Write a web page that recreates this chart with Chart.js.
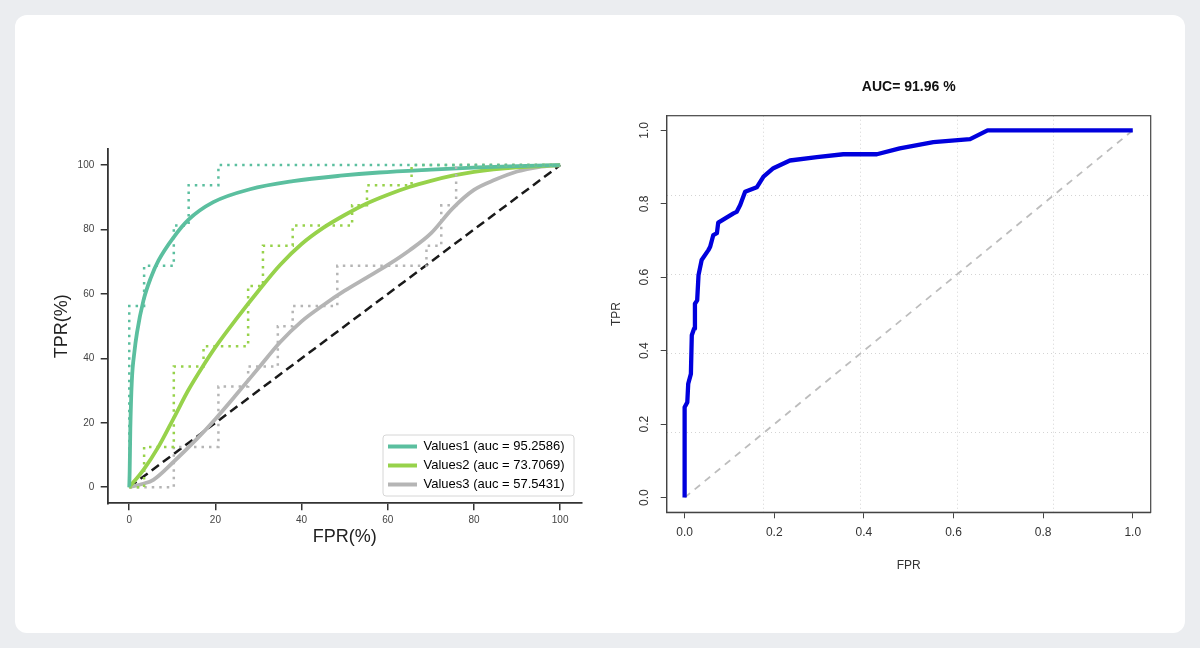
<!DOCTYPE html>
<html>
<head>
<meta charset="utf-8">
<script src="https://cdn.jsdelivr.net/npm/chart.js@4.4.1/dist/chart.umd.min.js"></script>
<style>
  html, body { margin: 0; padding: 0; width: 1200px; height: 648px; overflow: hidden; background: #ebedf0; }
  .card { position: absolute; left: 15px; top: 15px; width: 1170px; height: 618px; background: #fff; border-radius: 12px; }
  .box { position: absolute; }
  #leftBox { left: 30px; top: 100px; width: 570px; height: 460px; }
  #rightBox { left: 596px; top: 60px; width: 590px; height: 545px; }
</style>
</head>
<body>
<div class="card"></div>
<div class="box" id="leftBox"><canvas id="rocMulti"></canvas></div>
<div class="box" id="rightBox"><canvas id="rocSingle"></canvas></div>
<script>
// 左图：三组数据的经验 ROC（阶梯）和平滑 ROC
const seriesNames = ['Values1', 'Values2', 'Values3'];
const aucValues = ['95.2586', '73.7069', '57.5431'];
const seriesColors = ['#5bbf9f', '#97d24b', '#b5b5b5'];
const leftTicks = [0, 20, 40, 60, 80, 100];

// 阶梯点（先水平后垂直）
const stepFpr1 = [0, 0, 3.45, 10.34, 13.79, 20.69, 100];
const stepTpr1 = [0, 56.25, 68.75, 81.25, 93.75, 100, 100];
const stepFpr2 = [0, 3.45, 10.34, 17.24, 27.59, 31.03, 37.93, 51.72, 55.17, 65.52, 100];
const stepTpr2 = [0, 12.5, 37.5, 43.75, 62.5, 75, 81.25, 87.5, 93.75, 100, 100];
const stepFpr3 = [0, 10.34, 20.69, 27.59, 34.48, 37.93, 48.28, 68.97, 72.41, 75.86, 100];
const stepTpr3 = [0, 12.5, 31.25, 37.5, 50, 56.25, 68.75, 75, 87.5, 100, 100];

// 平滑曲线
const smoothFpr1 = [0, 0.1, 0.25, 0.6, 1.2, 1.8, 3.3, 5, 6.8, 10.3, 13.7, 19.5, 28, 38, 49, 58, 70, 81, 90, 100];
const smoothTpr1 = [0, 5, 18, 33, 42, 48, 58, 65, 70.4, 77.6, 83, 88.5, 92.5, 95, 96.7, 97.7, 98.6, 99.3, 99.7, 100];
const smoothFpr2 = [0, 3.3, 6.8, 10.3, 13.7, 17.2, 20, 25, 30, 35, 40, 45, 50, 55, 60, 65, 70, 75, 80, 90, 100];
const smoothTpr2 = [0, 5.4, 12.6, 21.4, 30.1, 37.8, 43.5, 52.5, 61, 69, 75.5, 80.5, 84.5, 88, 90.8, 93.2, 95.1, 96.7, 97.9, 99.3, 100];
const smoothFpr3 = [0, 3, 5.6, 10.3, 15.7, 20, 25, 30, 35, 40, 45, 50, 55, 60, 65, 70, 75, 80, 85, 90, 95, 100];
const smoothTpr3 = [0, 1, 2.3, 7.9, 15, 21.2, 29, 37, 45, 51.5, 56.5, 61, 65, 69, 73.5, 78.8, 86.5, 92.3, 95.5, 98, 99.4, 100];

const chanceFpr = [0, 100];
const chanceTpr = [0, 100];

// 右图：单条 ROC
const singleTitle = 'AUC= 91.96 %';
const rightTicks = [0, 0.2, 0.4, 0.6, 0.8, 1.0];
const gridTicks = [0.176, 0.392, 0.608, 0.824];
const rocFpr = [0, 0, 0.006, 0.008, 0.014, 0.016, 0.021, 0.023, 0.028, 0.031, 0.038, 0.053, 0.057, 0.064, 0.072, 0.075, 0.109, 0.116, 0.124, 0.135, 0.161, 0.176, 0.198, 0.235, 0.295, 0.354, 0.429, 0.48, 0.555, 0.637, 0.676, 1.0];
const rocTpr = [0, 0.246, 0.26, 0.31, 0.337, 0.442, 0.46, 0.528, 0.537, 0.606, 0.647, 0.674, 0.683, 0.715, 0.72, 0.749, 0.774, 0.778, 0.797, 0.833, 0.845, 0.874, 0.897, 0.918, 0.927, 0.935, 0.935, 0.951, 0.968, 0.976, 1.0, 1.0];
const diagFpr = [0, 1];
const diagTpr = [0, 1];

const toPoints = (xs, ys) => xs.map((x, i) => ({ x: x, y: ys[i] }));

Chart.defaults.font.family = '"Liberation Sans", Arial, Helvetica, sans-serif';
Chart.defaults.color = '#333';

// 图例外框，放在绘图区右下角
const legendFrame = {
  id: 'legendFrame',
  afterLayout(chart) {
    const a = chart.chartArea;
    const lg = chart.legend;
    const w = 191, h = 61;
    const bx = a.right - 7.7 - w, by = a.bottom - 7.3 - h;
    chart.$legendBox = { x: bx, y: by, w: w, h: h };
    lg.left = bx - 1; lg.top = by - 1;
    lg.width = w + 4; lg.height = h + 2;
    lg.right = lg.left + lg.width; lg.bottom = lg.top + lg.height;
  },
  beforeDraw(chart) {
    const b = chart.$legendBox;
    if (!b) return;
    const ctx = chart.ctx;
    ctx.save();
    ctx.beginPath();
    ctx.roundRect(b.x, b.y, b.w, b.h, 3);
    ctx.fillStyle = 'rgba(255,255,255,0.9)';
    ctx.fill();
    ctx.strokeStyle = '#d6d6d6';
    ctx.lineWidth = 1;
    ctx.stroke();
    ctx.restore();
  }
};

const stepSets = [[stepFpr1, stepTpr1], [stepFpr2, stepTpr2], [stepFpr3, stepTpr3]];
const smoothSets = [[smoothFpr1, smoothTpr1], [smoothFpr2, smoothTpr2], [smoothFpr3, smoothTpr3]];

const leftDatasets = [];
stepSets.forEach(([xs, ys], i) => {
  leftDatasets.push({
    label: seriesNames[i] + ' empirical',
    data: toPoints(xs, ys),
    stepped: 'before',
    borderColor: seriesColors[i],
    borderWidth: 2.5,
    borderDash: [2.5, 5],
    pointRadius: 0,
    fill: false
  });
});
smoothSets.forEach(([xs, ys], i) => {
  leftDatasets.push({
    label: seriesNames[i],
    data: toPoints(xs, ys),
    borderColor: seriesColors[i],
    borderWidth: 3.8,
    cubicInterpolationMode: 'monotone',
    pointRadius: 0,
    fill: false
  });
});
leftDatasets.push({
  label: 'chance',
  data: toPoints(chanceFpr, chanceTpr),
  borderColor: '#1a1a1a',
  borderWidth: 2.5,
  borderDash: [9, 5],
  pointRadius: 0,
  fill: false
});

new Chart(document.getElementById('rocMulti'), {
  type: 'line',
  data: { datasets: leftDatasets },
  options: {
    responsive: true,
    maintainAspectRatio: false,
    animation: false,
    layout: { padding: { left: 0, right: 18.3, top: 49, bottom: 0 } },
    scales: {
      x: {
        type: 'linear', min: -5, max: 105,
        afterBuildTicks: s => { s.ticks = leftTicks.map(v => ({ value: v })); },
        afterFit: s => { s.height = 56.7; },
        ticks: { font: { size: 10 }, color: '#444', padding: 4 },
        grid: { drawOnChartArea: false, drawTicks: true, tickLength: 7, color: '#333', lineWidth: 1.5 },
        border: { display: true, color: '#333', width: 1.8 },
        title: { display: true, text: 'FPR(%)', font: { size: 18 }, color: '#222', padding: { top: 0, bottom: 12.2 } }
      },
      y: {
        type: 'linear', min: -5, max: 105,
        afterBuildTicks: s => { s.ticks = leftTicks.map(v => ({ value: v })); },
        afterFit: s => { s.width = 77.7; },
        ticks: { font: { size: 10 }, color: '#444', padding: 6.4 },
        grid: { drawOnChartArea: false, drawTicks: true, tickLength: 7, color: '#333', lineWidth: 1.5 },
        border: { display: true, color: '#333', width: 1.8 },
        title: { display: true, text: 'TPR(%)', font: { size: 18 }, color: '#222', padding: { top: 21.2, bottom: 0 } }
      }
    },
    plugins: {
      legend: {
        position: 'chartArea',
        align: 'start',
        labels: {
          boxWidth: 29,
          boxHeight: 4,
          padding: 6,
          font: { size: 13 },
          color: '#333',
          generateLabels: () => seriesNames.map((n, i) => ({
            text: n + ' (auc = ' + aucValues[i] + ')',
            fillStyle: seriesColors[i],
            strokeStyle: seriesColors[i],
            lineWidth: 0,
            hidden: false,
            datasetIndex: i + 3
          }))
        }
      },
      tooltip: { enabled: false }
    }
  },
  plugins: [legendFrame]
});

// 右图外框
const plotFrame = {
  id: 'plotFrame',
  afterDatasetsDraw(chart) {
    const { ctx, chartArea: a } = chart;
    ctx.save();
    ctx.strokeStyle = '#444';
    ctx.lineWidth = 1.2;
    ctx.strokeRect(a.left, a.top, a.right - a.left, a.bottom - a.top);
    ctx.restore();
  }
};

const axisStyle = {
  grid: { drawOnChartArea: false, drawTicks: true, tickLength: 6, color: '#444', lineWidth: 1 },
  border: { display: true, color: '#444', width: 1.2 }
};

new Chart(document.getElementById('rocSingle'), {
  type: 'line',
  data: {
    datasets: [
      {
        label: 'ROC',
        data: toPoints(rocFpr, rocTpr),
        borderColor: '#0000dd',
        borderWidth: 4.3,
        pointRadius: 0,
        borderJoinStyle: 'round',
        fill: false
      },
      {
        label: 'diagonal',
        data: toPoints(diagFpr, diagTpr),
        borderColor: '#bdbdbd',
        borderWidth: 1.8,
        borderDash: [7, 6],
        pointRadius: 0,
        fill: false
      }
    ]
  },
  options: {
    responsive: true,
    maintainAspectRatio: false,
    animation: false,
    layout: { padding: { left: 0, right: 35.3, top: 0, bottom: 0 } },
    scales: {
      x: {
        type: 'linear', min: -0.04, max: 1.04,
        afterBuildTicks: s => { s.ticks = rightTicks.map(v => ({ value: v })); },
        afterFit: s => { s.height = 92.7; },
        ticks: { font: { size: 12 }, color: '#333', padding: 7.5, callback: v => v.toFixed(1) },
        grid: axisStyle.grid,
        border: axisStyle.border,
        title: { display: true, text: 'FPR', font: { size: 12 }, color: '#333', padding: { top: 0, bottom: 31.8 } }
      },
      y: {
        type: 'linear', min: -0.04, max: 1.04,
        afterBuildTicks: s => { s.ticks = rightTicks.map(v => ({ value: v })); },
        afterFit: s => { s.width = 70.7; },
        ticks: { font: { size: 12 }, color: '#333', padding: 7.35, minRotation: 90, maxRotation: 90, crossAlign: 'center', autoSkip: false, callback: v => v.toFixed(1) },
        grid: axisStyle.grid,
        border: axisStyle.border,
        title: { display: true, text: 'TPR', font: { size: 12 }, color: '#333', padding: { top: 13.8, bottom: 0 } }
      },
      xg: {
        type: 'linear', position: 'bottom', min: -0.04, max: 1.04,
        afterBuildTicks: s => { s.ticks = gridTicks.map(v => ({ value: v })); },
        afterFit: s => { s.height = 0; },
        ticks: { display: false },
        grid: { color: '#d4d4d4', lineWidth: 1, drawTicks: false },
        border: { display: false, dash: [1, 3] }
      },
      yg: {
        type: 'linear', position: 'left', min: -0.04, max: 1.04,
        afterBuildTicks: s => { s.ticks = gridTicks.map(v => ({ value: v })); },
        afterFit: s => { s.width = 0; },
        ticks: { display: false },
        grid: { color: '#d4d4d4', lineWidth: 1, drawTicks: false },
        border: { display: false, dash: [1, 3] }
      }
    },
    plugins: {
      legend: { display: false },
      tooltip: { enabled: false },
      title: {
        display: true,
        text: singleTitle,
        fullSize: false,
        font: { size: 14, weight: 'bold' },
        color: '#111',
        padding: { top: 18.6, bottom: 20.3 }
      }
    }
  },
  plugins: [plotFrame]
});
</script>
</body>
</html>
